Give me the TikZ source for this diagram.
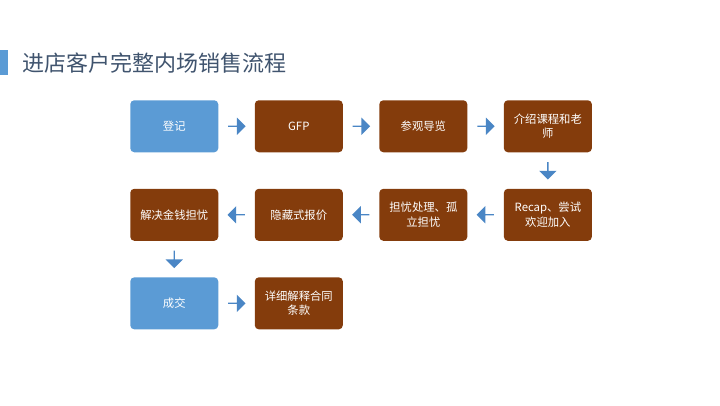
\documentclass[tikz,border=0pt]{standalone}
\usepackage{fontspec}
\setmainfont{Noto Sans CJK SC}
\usepackage{tikz}
\usetikzlibrary{
    positioning,
    calc,
    shapes.arrows
}
\definecolor{stepBlue}{RGB}{91, 155, 213}
\definecolor{stepBrown}{RGB}{132, 60, 12}
\definecolor{arrowBlue}{RGB}{74, 134, 197}
\definecolor{titleGray}{RGB}{64, 84, 110}

\tikzset{
    stepbox/.style={rounded corners=3pt, minimum width=66pt, minimum height=39pt,
        text=white, font=\fontsize{8.5}{11}\selectfont, align=center, inner sep=1pt},
    blue step/.style={stepbox, fill=stepBlue},
    brown step/.style={stepbox, fill=stepBrown},
    flow/.style={single arrow, fill=arrowBlue, minimum height=13pt,
        single arrow head extend=2.5pt, minimum width=13pt, inner sep=0pt}
}

\begin{document}
\begin{tikzpicture}[node distance=27pt and 27pt]
            \useasboundingbox (0,0) rectangle (540pt,303.75pt);
            % title
            \fill[stepBlue] (0,266pt) rectangle (6pt,265.5pt-18pt);
            \node[anchor=west, text=titleGray, font=\fontsize{16.5}{18}\selectfont] (title) at (13pt,256.5pt) {进店客户完整内场销售流程};
            
            % steps
            \node[blue step, anchor=north west] (s1) at (97.5pt,228.75pt) {登记};
            \node[brown step, right=of s1] (s2) {GFP};
            \node[brown step, right=of s2] (s3) {参观导览};
            \node[brown step, right=of s3] (s4) {介绍课程和老\\师};
            \node[brown step, below=of s4] (s5) {Recap、尝试\\欢迎加入};
            \node[brown step, left=of s5] (s6) {担忧处理、孤\\立担忧};
            \node[brown step, left=of s6] (s7) {隐藏式报价};
            \node[brown step, left=of s7] (s8) {解决金钱担忧};
            \node[blue step, below=of s8] (s9) {成交};
            \node[brown step, right=of s9] (s10) {详细解释合同\\条款};
            
            % arrows
            \node[flow] (a1) at ($(s1.east)!0.5!(s2.west)$) {};
            \node[flow] (a2) at ($(s2.east)!0.5!(s3.west)$) {};
            \node[flow] (a3) at ($(s3.east)!0.5!(s4.west)$) {};
            \node[flow, rotate=-90] (a4) at ($(s4.south)!0.5!(s5.north)$) {};
            \node[flow, rotate=180] (a5) at ($(s5.west)!0.5!(s6.east)$) {};
            \node[flow, rotate=180] (a6) at ($(s6.west)!0.5!(s7.east)$) {};
            \node[flow, rotate=180] (a7) at ($(s7.west)!0.5!(s8.east)$) {};
            \node[flow, rotate=-90] (a8) at ($(s8.south)!0.5!(s9.north)$) {};
            \node[flow] (a9) at ($(s9.east)!0.5!(s10.west)$) {};
        \end{tikzpicture}
\end{document}
